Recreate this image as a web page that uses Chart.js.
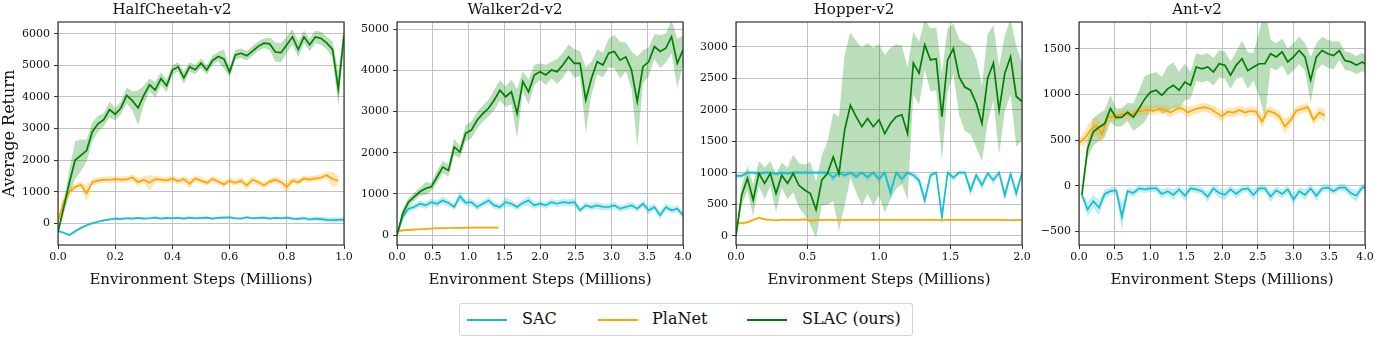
<!DOCTYPE html>
<html>
<head>
<meta charset="utf-8">
<script src="https://cdn.jsdelivr.net/npm/chart.js@4.4.1/dist/chart.umd.min.js"></script>
<style>
body { margin: 0; background: #fff; width: 1375px; height: 339px; position: relative; overflow: hidden; font-family: 'DejaVu Serif', serif; }
canvas { position: absolute; top: 0; }
#legend { position: absolute; left: 459px; top: 303px; width: 452px; height: 31px; border: 1px solid #d4d4d4; border-radius: 3px; }
#legend .sw { position: absolute; top: 15px; width: 40px; height: 2px; }
#legend .lb { position: absolute; top: 4px; font-size: 16px; color: #111; line-height: 22px; }
</style>
</head>
<body>
<canvas id="c1" width="358" height="300" style="left:0px"></canvas>
<canvas id="c2" width="350" height="300" style="left:347px"></canvas>
<canvas id="c3" width="350" height="300" style="left:686px"></canvas>
<canvas id="c4" width="350" height="300" style="left:1029px"></canvas>
<div id="legend"></div>
<script>
// series names / colours
const seriesNames = ["SAC", "PlaNet", "SLAC (ours)"];
const seriesColors = ["#17becf", "#ffa500", "#008000"];

function grid(start, dx, n) {
    let a = [];
    for (let i = 0; i < n; i++) a.push(+(start + dx * i).toFixed(3));
    return a;
}

// ---- HalfCheetah-v2 ----
const hcSteps = grid(0, 0.02, 51);
const hcSlac = [-280, 500, 1300, 2000, 2150, 2300, 2900, 3150, 3280, 3600,
    3450, 3650, 4050, 3880, 3650, 4050, 4380, 4220, 4580, 4350,
    4850, 4950, 4600, 4950, 4860, 5070, 4850, 5150, 5280, 5200,
    4780, 5330, 5380, 5300, 5450, 5600, 5700, 5680, 5420, 5400,
    5650, 5900, 5500, 5900, 5650, 5900, 5850, 5700, 5500, 4250, 5950];
const hcSlacSpread = [30, 200, 400, 600, 500, 350, 300, 250, 200, 250,
    200, 200, 250, 300, 550, 300, 200, 250, 200, 200,
    150, 150, 200, 150, 150, 150, 150, 150, 150, 300,
    150, 150, 150, 150, 150, 150, 150, 200, 300, 300,
    250, 250, 250, 200, 200, 200, 200, 200, 250, 550, 300];
const hcPlanetSteps = grid(0, 0.02, 50);
const hcPlanet = [50, 700, 1000, 1150, 1220, 950, 1300, 1350, 1380, 1370,
    1400, 1380, 1390, 1450, 1300, 1380, 1280, 1400, 1380, 1350,
    1420, 1330, 1400, 1250, 1420, 1350, 1280, 1400, 1320, 1230,
    1350, 1280, 1350, 1200, 1380, 1300, 1200, 1320, 1380, 1300,
    1150, 1350, 1300, 1420, 1380, 1420, 1450, 1520, 1400, 1350];
const hcPlanetSpread = [50, 200, 150, 100, 100, 250, 100, 100, 100, 100,
    100, 100, 100, 100, 150, 100, 250, 100, 100, 100,
    100, 100, 100, 150, 100, 100, 100, 100, 100, 100,
    100, 100, 100, 150, 100, 100, 100, 100, 100, 100,
    200, 100, 100, 100, 100, 100, 100, 100, 250, 150];
const hcSac = [-250, -300, -370, -250, -150, -60, 0, 50, 90, 120,
    150, 140, 160, 150, 170, 150, 160, 180, 150, 170,
    160, 170, 150, 180, 160, 170, 180, 150, 170, 180,
    190, 160, 150, 190, 160, 170, 180, 150, 170, 160,
    180, 150, 140, 160, 120, 150, 130, 110, 100, 110, 120];
const hcSacSpread = [30, 40, 50, 50, 50, 40, 40, 40, 40, 40,
    40, 40, 40, 40, 40, 40, 40, 40, 40, 40,
    40, 40, 40, 40, 40, 40, 40, 40, 40, 40,
    40, 40, 40, 40, 40, 40, 40, 40, 40, 40,
    50, 50, 50, 50, 60, 60, 70, 80, 80, 80, 80];
const hcXTicks = [0, 0.2, 0.4, 0.6, 0.8, 1.0];
const hcYTicks = [0, 1000, 2000, 3000, 4000, 5000, 6000];

// ---- Walker2d-v2 ----
const wkSteps = grid(0, 0.08, 51);
const wkSlac = [0, 520, 800, 925, 1050, 1130, 1170, 1410, 1650, 1570,
    2140, 2020, 2470, 2550, 2790, 2950, 3080, 3280, 3520, 3360,
    3480, 2950, 3730, 3480, 3890, 3970, 3890, 4010, 3970, 4130,
    4330, 4170, 4170, 3280, 3810, 4210, 4130, 4420, 4460, 4250,
    4330, 4010, 3240, 4090, 4210, 4580, 4460, 4540, 4820, 4170, 4500];
const wkSlacSpread = [20, 100, 100, 100, 100, 150, 100, 150, 150, 150,
    200, 150, 200, 200, 200, 200, 200, 250, 250, 250,
    300, 600, 250, 300, 250, 200, 250, 200, 300, 300,
    300, 350, 300, 800, 400, 300, 300, 350, 400, 450,
    350, 450, 1100, 400, 350, 300, 400, 350, 400, 600, 350];
const wkSac = [0, 440, 640, 680, 760, 720, 800, 760, 840, 780,
    680, 940, 780, 800, 680, 760, 840, 720, 680, 800,
    760, 680, 780, 840, 720, 760, 720, 800, 760, 800,
    780, 800, 600, 720, 680, 720, 680, 680, 720, 640,
    680, 720, 640, 760, 600, 680, 480, 680, 600, 640, 480];
const wkSacSpread = [20, 80, 80, 80, 80, 80, 80, 80, 100, 80,
    80, 120, 80, 80, 80, 80, 100, 80, 80, 120,
    80, 80, 80, 120, 80, 80, 80, 80, 80, 80,
    80, 100, 80, 80, 80, 80, 80, 80, 80, 80,
    80, 80, 80, 80, 100, 80, 100, 80, 80, 80, 80];
const wkPlanetSteps = grid(0.02, 0.1, 15);
const wkPlanet = [100, 120, 130, 140, 150, 160, 165, 170, 175, 175, 178, 180, 180, 180, 180];
const wkPlanetSpread = [30, 30, 25, 20, 20, 20, 15, 15, 15, 15, 15, 15, 15, 15, 15];
const wkXTicks = [0, 0.5, 1.0, 1.5, 2.0, 2.5, 3.0, 3.5, 4.0];
const wkYTicks = [0, 1000, 2000, 3000, 4000, 5000];

// ---- Hopper-v2 ----
const hpSteps = grid(0, 0.04, 51);
const hpSlac = [0, 645, 910, 566, 990, 830, 990, 670, 960, 830,
    990, 800, 725, 670, 410, 880, 990, 1250, 980, 1680,
    2070, 1890, 1730, 1860, 1730, 1840, 1620, 1780, 1890, 1920,
    1620, 2740, 2580, 3030, 2790, 2810, 1890, 2790, 2970, 2520,
    2360, 2310, 2100, 1780, 2500, 2740, 1990, 2580, 2840, 2210, 2130];
const hpSlacSpread = [20, 150, 200, 250, 200, 250, 200, 300, 200, 250,
    300, 350, 400, 500, 450, 400, 500, 700, 900, 1200,
    1150, 1200, 1250, 1200, 1250, 1200, 1250, 1200, 1150, 1100,
    1050, 500, 500, 400, 500, 500, 700, 500, 400, 600,
    700, 700, 700, 600, 700, 600, 700, 600, 600, 800, 600];
const hpSac = [950, 950, 1000, 1000, 980, 1000, 1000, 980, 1000, 990,
    1000, 1000, 1000, 1000, 1000, 1000, 1000, 920, 1000, 960,
    1000, 940, 1000, 930, 1000, 900, 1000, 680, 1000, 900,
    1000, 960, 880, 560, 960, 1000, 300, 1000, 920, 1000,
    1000, 720, 960, 800, 990, 880, 1000, 640, 980, 670, 1000];
const hpSacSpread = [30, 40, 30, 30, 30, 30, 30, 30, 30, 30,
    30, 30, 30, 30, 30, 30, 30, 60, 30, 50,
    30, 60, 30, 60, 30, 80, 30, 100, 30, 80,
    30, 50, 80, 100, 50, 30, 100, 30, 60, 30,
    30, 100, 50, 80, 30, 80, 30, 100, 40, 100, 30];
const hpPlanet = [190, 200, 210, 250, 285, 260, 250, 245, 250, 250,
    250, 250, 260, 240, 245, 250, 250, 250, 245, 250,
    250, 250, 250, 250, 250, 250, 250, 250, 250, 250,
    250, 250, 250, 250, 250, 250, 250, 250, 250, 250,
    250, 250, 250, 250, 250, 250, 250, 250, 245, 250, 250];
const hpPlanetSpread = [20, 20, 20, 20, 20, 20, 15, 15, 15, 15,
    15, 15, 15, 15, 15, 15, 15, 15, 15, 15,
    15, 15, 15, 15, 15, 15, 15, 15, 15, 15,
    15, 15, 15, 15, 15, 15, 15, 15, 15, 15,
    15, 15, 15, 15, 15, 15, 15, 15, 15, 15, 15];
const hpXTicks = [0, 0.5, 1.0, 1.5, 2.0];
const hpYTicks = [0, 500, 1000, 1500, 2000, 2500, 3000];

// ---- Ant-v2 ----
const antSteps = grid(0.04, 0.08, 50).concat([4.0]);
const antSlac = [-100, 405, 590, 640, 680, 845, 745, 750, 805, 750,
    845, 950, 1025, 1045, 990, 1060, 1100, 1045, 1135, 1100,
    1300, 1280, 1300, 1245, 1335, 1320, 1210, 1320, 1390, 1260,
    1300, 1335, 1335, 1445, 1410, 1465, 1355, 1410, 1480, 1410,
    1155, 1410, 1480, 1445, 1425, 1480, 1370, 1355, 1320, 1355, 1330];
const antSlacSpread = [20, 100, 150, 150, 150, 150, 100, 100, 100, 150,
    200, 250, 200, 200, 200, 250, 250, 200, 200, 150,
    150, 150, 150, 150, 150, 150, 150, 150, 200, 200,
    150, 350, 600, 150, 150, 150, 150, 150, 150, 150,
    250, 150, 150, 150, 150, 100, 100, 100, 100, 100, 100];
const antPlanetSteps = grid(0, 0.08, 44);
const antPlanet = [470, 520, 610, 660, 560, 750, 760, 770, 790, 770,
    810, 820, 830, 820, 840, 830, 800, 840, 850, 800,
    830, 850, 860, 840, 800, 760, 810, 800, 830, 800,
    820, 810, 700, 820, 800, 760, 650, 720, 820, 840,
    860, 720, 800, 770];
const antPlanetSpread = [40, 80, 100, 100, 100, 60, 50, 50, 50, 50,
    50, 50, 50, 50, 50, 50, 60, 50, 50, 60,
    50, 50, 50, 50, 60, 60, 50, 50, 50, 50,
    50, 50, 80, 50, 50, 60, 80, 60, 50, 50,
    50, 60, 60, 70];
const antSac = [-100, -260, -170, -240, -90, -60, -50, -340, -60, -80,
    -30, -40, -30, -30, -90, -60, -100, -40, -110, -30,
    -40, -60, -120, -30, -80, -100, -40, -90, -40, -30,
    -100, -30, -30, -120, -50, -90, -40, -150, -60, -100,
    -30, -110, -30, -20, -60, -20, -20, -80, -110, -20, -15];
const antSacSpread = [30, 80, 70, 80, 50, 40, 40, 150, 40, 40,
    40, 40, 40, 40, 50, 40, 60, 40, 60, 40,
    40, 40, 60, 40, 50, 60, 40, 50, 40, 40,
    60, 40, 40, 60, 40, 50, 40, 70, 40, 60,
    40, 60, 40, 40, 40, 40, 40, 50, 60, 40, 40];
const antXTicks = [0, 0.5, 1.0, 1.5, 2.0, 2.5, 3.0, 3.5, 4.0];
const antYTicks = [-500, 0, 500, 1000, 1500];

const FONT = "'DejaVu Serif', serif";

function pts(xs, ys) {
    return xs.map((x, i) => ({ x: x, y: ys[i] }));
}

function withAlpha(hex, a) {
    let r = parseInt(hex.substr(1, 2), 16), g = parseInt(hex.substr(3, 2), 16), b = parseInt(hex.substr(5, 2), 16);
    return "rgba(" + r + "," + g + "," + b + "," + a + ")";
}

const framePlugin = {
    id: "frame",
    afterDatasetsDraw(chart) {
        const a = chart.chartArea;
        const ctx = chart.ctx;
        ctx.save();
        ctx.strokeStyle = "#333";
        ctx.lineWidth = 1.2;
        ctx.strokeRect(a.left, a.top, a.right - a.left, a.bottom - a.top);
        ctx.restore();
    }
};

function makePanel(p) {
    // p.series given as [SAC, PlaNet, SLAC]
    let lines = [];
    let bands = [];
    for (let k = p.series.length - 1; k >= 0; k--) {
        let s = p.series[k];
        lines.push({
            data: pts(s.steps, s.mean),
            borderColor: seriesColors[k],
            borderWidth: 1.7,
            pointRadius: 0,
            fill: false,
            tension: 0
        });
    }
    for (let k = 0; k < p.series.length; k++) {
        let s = p.series[k];
        bands.push({
            data: pts(s.steps, s.mean.map((m, i) => m - s.spread[i])),
            borderWidth: 0,
            pointRadius: 0,
            fill: false
        });
        bands.push({
            data: pts(s.steps, s.mean.map((m, i) => m + s.spread[i])),
            borderWidth: 0,
            pointRadius: 0,
            fill: "-1",
            backgroundColor: withAlpha(seriesColors[k], 0.27)
        });
    }
    const configuration = {
        type: "line",
        data: { datasets: lines.concat(bands) },
        options: {
            responsive: false,
            animation: false,
            layout: { padding: { left: 0, right: 14, top: 0, bottom: 0 } },
            plugins: {
                legend: { display: false },
                tooltip: { enabled: false },
                title: {
                    display: true,
                    text: p.title,
                    color: "#111",
                    font: { family: FONT, size: 15, weight: "normal", lineHeight: 1.2 },
                    padding: { top: 1, bottom: 3 }
                }
            },
            scales: {
                x: {
                    type: "linear",
                    min: 0,
                    max: p.xMax,
                    afterBuildTicks: function (s) { s.ticks = p.xTicks.map(v => ({ value: v })); },
                    afterFit: function (s) { s.height = 55; },
                    border: { display: false },
                    grid: { color: "#c2c2c2", lineWidth: 1, tickColor: "#333", tickLength: 4 },
                    ticks: {
                        color: "#111",
                        padding: 2,
                        maxRotation: 0,
                        font: { family: FONT, size: 11 },
                        callback: function (value) { return value.toFixed(1); }
                    },
                    title: {
                        display: true,
                        text: "Environment Steps (Millions)",
                        color: "#111",
                        font: { family: FONT, size: 15 },
                        padding: { top: 0, bottom: 11 }
                    }
                },
                y: {
                    type: "linear",
                    min: p.yMin,
                    max: p.yMax,
                    afterBuildTicks: function (s) { s.ticks = p.yTicks.map(v => ({ value: v })); },
                    afterFit: function (s) { s.width = p.yw; },
                    border: { display: false },
                    grid: { color: "#c2c2c2", lineWidth: 1, tickColor: "#333", tickLength: 4 },
                    ticks: {
                        color: "#111",
                        padding: 4,
                        font: { family: FONT, size: 11 },
                        callback: function (value) { return value < 0 ? "\u2212" + (-value) : String(value); }
                    },
                    title: {
                        display: !!p.yTitle,
                        text: p.yTitle || "",
                        color: "#111",
                        font: { family: FONT, size: 16 },
                        padding: { top: 0, bottom: 0 }
                    }
                }
            }
        },
        plugins: [framePlugin]
    };
    new Chart(document.getElementById(p.id), configuration);
}

makePanel({
    id: "c1", title: "HalfCheetah-v2", xMax: 1.0, xTicks: hcXTicks,
    yMin: -687, yMax: 6370, yTicks: hcYTicks, yw: 58, yTitle: "Average Return",
    series: [
        { steps: hcSteps, mean: hcSac, spread: hcSacSpread },
        { steps: hcPlanetSteps, mean: hcPlanet, spread: hcPlanetSpread },
        { steps: hcSteps, mean: hcSlac, spread: hcSlacSpread }
    ]
});
makePanel({
    id: "c2", title: "Walker2d-v2", xMax: 4.0, xTicks: wkXTicks,
    yMin: -243, yMax: 5177, yTicks: wkYTicks, yw: 50,
    series: [
        { steps: wkSteps, mean: wkSac, spread: wkSacSpread },
        { steps: wkPlanetSteps, mean: wkPlanet, spread: wkPlanetSpread },
        { steps: wkSteps, mean: wkSlac, spread: wkSlacSpread }
    ]
});
makePanel({
    id: "c3", title: "Hopper-v2", xMax: 2.0, xTicks: hpXTicks,
    yMin: -148, yMax: 3392, yTicks: hpYTicks, yw: 50,
    series: [
        { steps: hpSteps, mean: hpSac, spread: hpSacSpread },
        { steps: hpSteps, mean: hpPlanet, spread: hpPlanetSpread },
        { steps: hpSteps, mean: hpSlac, spread: hpSlacSpread }
    ]
});
makePanel({
    id: "c4", title: "Ant-v2", xMax: 4.0, xTicks: antXTicks,
    yMin: -649, yMax: 1792, yTicks: antYTicks, yw: 50,
    series: [
        { steps: antSteps, mean: antSac, spread: antSacSpread },
        { steps: antPlanetSteps, mean: antPlanet, spread: antPlanetSpread },
        { steps: antSteps, mean: antSlac, spread: antSlacSpread }
    ]
});

// legend
const legendPos = [[7, 62], [138, 192], [287, 342]];
const legend = document.getElementById("legend");
for (let k = 0; k < seriesNames.length; k++) {
    let sw = document.createElement("div");
    sw.className = "sw";
    sw.style.left = legendPos[k][0] + "px";
    sw.style.background = seriesColors[k];
    legend.appendChild(sw);
    let lb = document.createElement("div");
    lb.className = "lb";
    lb.style.left = legendPos[k][1] + "px";
    lb.textContent = seriesNames[k];
    legend.appendChild(lb);
}
</script>
</body>
</html>
